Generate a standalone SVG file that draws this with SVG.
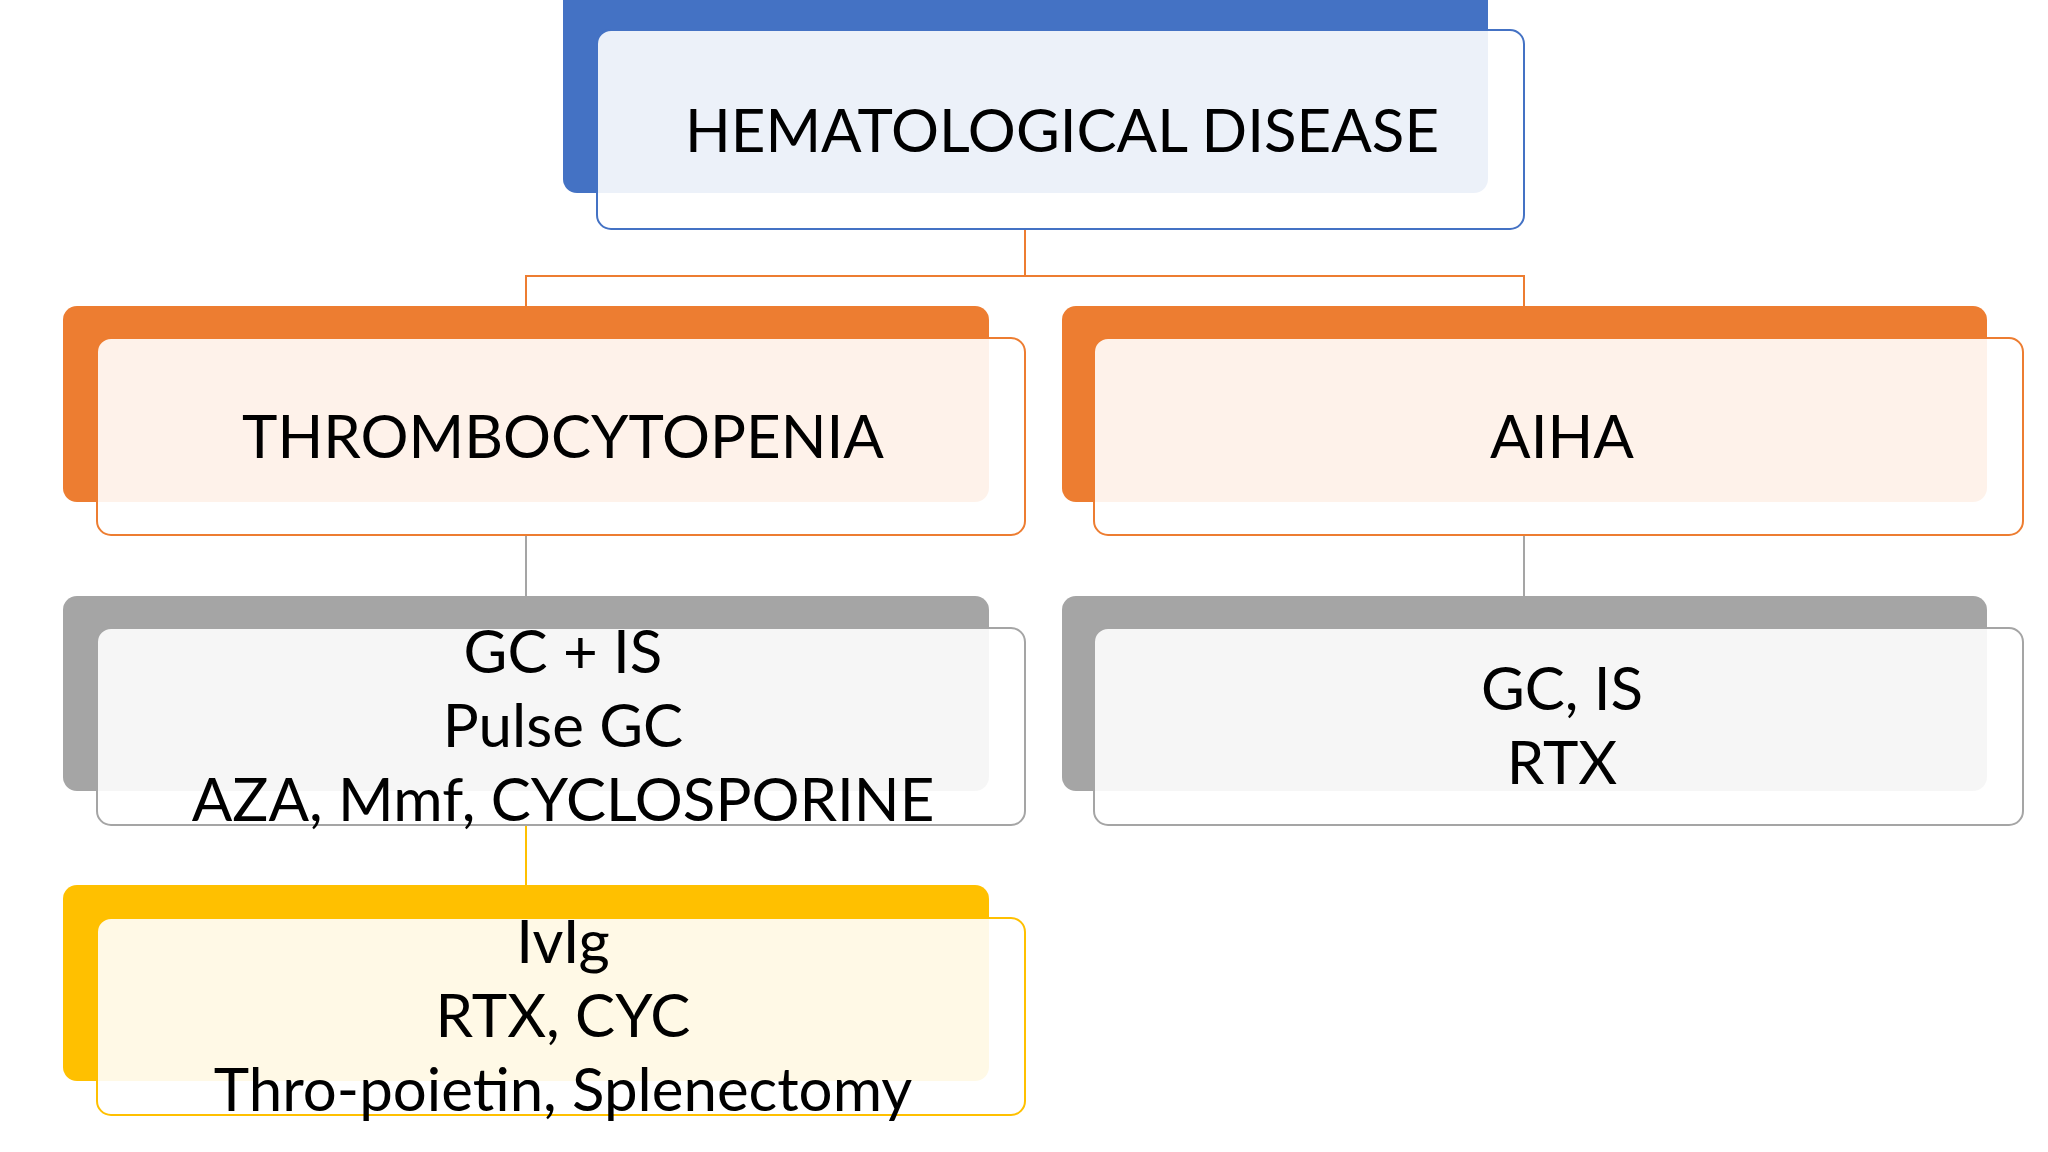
<svg xmlns="http://www.w3.org/2000/svg" width="2048" height="1152" viewBox="0 0 2048 1152">
<style>
.f{fill:#fff;fill-opacity:0.9;stroke-width:2}
.t{font-family:Lato,"Liberation Sans",sans-serif;font-size:60px;text-anchor:middle;fill:#000}
</style>
<rect width="2048" height="1152" fill="#fff"/>
<g id="connectors" fill="none" stroke-width="2">
<path d="M1025 229V276H526V306M1025 276H1524V306" stroke="#ED7D31"/>
<path d="M526 535V596M1524 535V596" stroke="#A5A5A5"/>
<path d="M526 825V885" stroke="#FFC000"/>
</g>
<g id="n0">
<rect x="563" y="-20" width="925" height="213" rx="14" fill="#4472C4"/>
<rect x="597" y="30" width="927" height="199" rx="14" class="f" stroke="#4472C4"/>
<text x="1062" y="152" class="t">HEMATOLOGICAL DISEASE</text>
</g>
<g id="n1">
<rect x="63" y="306" width="926" height="196" rx="14" fill="#ED7D31"/>
<rect x="97" y="338" width="928" height="197" rx="14" class="f" stroke="#ED7D31"/>
<text x="563" y="458" class="t">THROMBOCYTOPENIA</text>
</g>
<g id="n2">
<rect x="1062" y="306" width="925" height="196" rx="14" fill="#ED7D31"/>
<rect x="1094" y="338" width="929" height="197" rx="14" class="f" stroke="#ED7D31"/>
<text x="1562" y="458" class="t">AIHA</text>
</g>
<g id="n3">
<rect x="63" y="596" width="926" height="195" rx="14" fill="#A5A5A5"/>
<rect x="97" y="628" width="928" height="197" rx="14" class="f" stroke="#A5A5A5"/>
<text x="563" y="673" class="t">GC + IS</text>
<text x="563" y="747" class="t">Pulse GC</text>
<text x="563" y="821" class="t">AZA, Mmf, CYCLOSPORINE</text>
</g>
<g id="n4">
<rect x="1062" y="596" width="925" height="195" rx="14" fill="#A5A5A5"/>
<rect x="1094" y="628" width="929" height="197" rx="14" class="f" stroke="#A5A5A5"/>
<text x="1562" y="710" class="t">GC, IS</text>
<text x="1562" y="784" class="t">RTX</text>
</g>
<g id="n5">
<rect x="63" y="885" width="926" height="196" rx="14" fill="#FFC000"/>
<rect x="97" y="918" width="928" height="197" rx="14" class="f" stroke="#FFC000"/>
<text x="563" y="963" class="t">IvIg</text>
<text x="563" y="1037" class="t">RTX, CYC</text>
<text x="563" y="1111" class="t">Thro-poietin, Splenectomy</text>
</g>
</svg>
